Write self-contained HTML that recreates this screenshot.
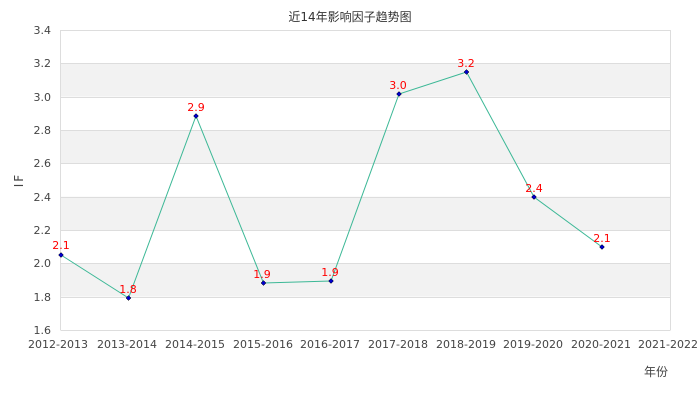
<!DOCTYPE html>
<html><head><meta charset="utf-8"><style>
html,body{margin:0;padding:0;background:#fff;}
svg{display:block;font-family:"DejaVu Sans","Noto Sans CJK SC",sans-serif;}
</style></head><body>
<svg width="700" height="400" viewBox="0 0 700 400" xmlns="http://www.w3.org/2000/svg">
<text x="350" y="21" font-size="12" fill="#333" text-anchor="middle" font-family="'DejaVu Sans','Noto Sans CJK SC',sans-serif">近14年影响因子趋势图</text>
<g fill="#f2f2f2">
<rect x="61" y="63.3" width="609" height="33.3"/>
<rect x="61" y="130" width="609" height="33.3"/>
<rect x="61" y="196.7" width="609" height="33.3"/>
<rect x="61" y="263.3" width="609" height="33.3"/>
</g>
<g stroke="#dddddd" stroke-width="1">
<line x1="61" x2="670" y1="30.5" y2="30.5"/>
<line x1="61" x2="670" y1="63.5" y2="63.5"/>
<line x1="61" x2="670" y1="97.5" y2="97.5"/>
<line x1="61" x2="670" y1="130.5" y2="130.5"/>
<line x1="61" x2="670" y1="163.5" y2="163.5"/>
<line x1="61" x2="670" y1="197.5" y2="197.5"/>
<line x1="61" x2="670" y1="230.5" y2="230.5"/>
<line x1="61" x2="670" y1="263.5" y2="263.5"/>
<line x1="61" x2="670" y1="297.5" y2="297.5"/>
<line x1="60.5" x2="670.5" y1="330.5" y2="330.5"/>
<line x1="60.5" x2="60.5" y1="30" y2="330"/>
<line x1="670.5" x2="670.5" y1="30" y2="330"/>
</g>
<g font-size="11" fill="#444" text-anchor="end">
<text x="51" y="34">3.4</text><text x="51" y="67">3.2</text><text x="51" y="101">3.0</text>
<text x="51" y="134">2.8</text><text x="51" y="167">2.6</text><text x="51" y="201">2.4</text>
<text x="51" y="234">2.2</text><text x="51" y="267">2.0</text><text x="51" y="301">1.8</text>
<text x="51" y="334">1.6</text>
</g>
<g font-size="11" fill="#444" text-anchor="middle">
<text x="58" y="348">2012-2013</text><text x="127" y="348">2013-2014</text><text x="195" y="348">2014-2015</text>
<text x="263" y="348">2015-2016</text><text x="330" y="348">2016-2017</text><text x="398" y="348">2017-2018</text>
<text x="466" y="348">2018-2019</text><text x="533" y="348">2019-2020</text><text x="601" y="348">2020-2021</text>
<text x="668" y="348">2021-2022</text>
</g>
<text x="656" y="376" font-size="12" fill="#444" text-anchor="middle">年份</text>
<text x="23" y="180" font-size="12" fill="#444" text-anchor="middle" letter-spacing="2" transform="rotate(-90 23 180)">IF</text>
<polyline fill="none" stroke="#3cb896" stroke-width="1" points="61,255 128.5,298 196,116 263.5,283 331,281 399,94 466.5,72 534,197 602,247"/>
<g fill="#0000cc" stroke="#000" stroke-width="0.5">
<path d="M61 252.5l2.5 2.5-2.5 2.5-2.5-2.5z"/>
<path d="M128.5 295.5l2.5 2.5-2.5 2.5-2.5-2.5z"/>
<path d="M196 113.5l2.5 2.5-2.5 2.5-2.5-2.5z"/>
<path d="M263.5 280.5l2.5 2.5-2.5 2.5-2.5-2.5z"/>
<path d="M331 278.5l2.5 2.5-2.5 2.5-2.5-2.5z"/>
<path d="M399 91.5l2.5 2.5-2.5 2.5-2.5-2.5z"/>
<path d="M466.5 69.5l2.5 2.5-2.5 2.5-2.5-2.5z"/>
<path d="M534 194.5l2.5 2.5-2.5 2.5-2.5-2.5z"/>
<path d="M602 244.5l2.5 2.5-2.5 2.5-2.5-2.5z"/>
</g>
<g font-size="11" fill="#ff0000" text-anchor="middle">
<text x="61" y="249">2.1</text><text x="128" y="293">1.8</text><text x="196" y="111">2.9</text>
<text x="262" y="278">1.9</text><text x="330" y="276">1.9</text><text x="398" y="89">3.0</text>
<text x="466" y="67">3.2</text><text x="534" y="192">2.4</text><text x="602" y="242">2.1</text>
</g>
</svg>
</body></html>
